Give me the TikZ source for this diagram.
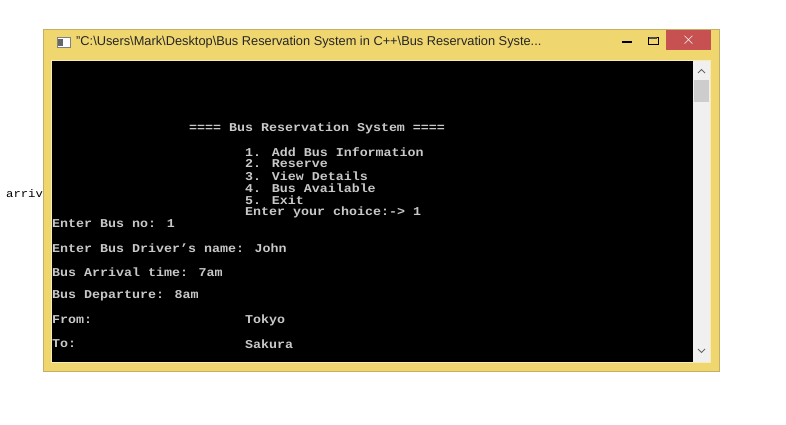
\documentclass[tikz,border=0pt]{standalone}
\usepackage{fontspec}
\setmainfont{Liberation Sans}
\newfontfamily\consolefont[FakeStretch=1.11]{Liberation Mono}
\definecolor{frameyellow}{RGB}{240,214,110}
\definecolor{frameedge}{RGB}{196,176,100}
\definecolor{closered}{RGB}{199,80,80}
\definecolor{consolegray}{RGB}{200,200,200}
\definecolor{barback}{RGB}{240,240,240}
\definecolor{thumbgray}{RGB}{205,205,205}
\begin{document}
\begin{tikzpicture}[
  x=1pt, y=1pt,
  con/.style={anchor=west, inner sep=0pt, text=consolegray,
    font=\consolefont\bfseries\fontsize{12}{12}\selectfont},
  btn/.style={inner sep=0pt, font=\fontsize{16}{16}\selectfont}
]
\useasboundingbox [fill=white] (0,0) rectangle (786,424);

% text of the window behind
\node [anchor=west, inner sep=0pt, font=\consolefont\fontsize{11}{11}\selectfont] (behind) at (6,230) {arrival};

% window frame
\fill [frameyellow, draw=frameedge] (43.5,52.5) rectangle (719.5,394.5);
\fill [closered] (666,374) rectangle (711,394);
\node [btn, text=white] (close) at (688.5,384) {$\times$};
\draw [line width=1.3pt] (622,382) -- (632,382);
\draw [line width=0.9pt] (648,380) rectangle (658,387);
\draw [line width=2pt, black!70] (649,385.5) -- (657,385.5);
% icon and title
\fill [white, draw=black!50] (57,377) rectangle (70,387);
\fill [black!60] (58,378) rectangle (63,385);
\node [anchor=west, inner sep=0pt, font=\fontsize{12.8}{12.8}\selectfont, text=black!85] (title) at (76,382)
  {"C:\textbackslash Users\textbackslash Mark\textbackslash Desktop\textbackslash Bus Reservation System in C++\textbackslash Bus Reservation Syste...};

% console area
\draw [white!50!frameyellow, line width=0.6pt] (51.5,61.5) rectangle (710.5,363.5);
\fill [black] (52,62) rectangle (693,363);
\fill [barback] (693,62) rectangle (710,363);
\fill [thumbgray] (694,322) rectangle (709,344);
\draw [black!60, line width=1pt] (698,351) -- (701.5,354.5) -- (705,351);
\draw [black!60, line width=1pt] (698,75) -- (701.5,71.5) -- (705,75);

% console text
\node [con] (head) at (189,296) {==== Bus Reservation System ====};
\node [con] (m1) at (245,272) {1. Add Bus Information};
\node [con] (m2) at (245,260) {2. Reserve};
\node [con] (m3) at (245,248) {3. View Details};
\node [con] (m4) at (245,236) {4. Bus Available};
\node [con] (m5) at (245,224) {5. Exit};
\node [con] (choice) at (245,212) {Enter your choice:-> 1};
\node [con] (busno) at (52,200) {Enter Bus no: 1};
\node [con] (driver) at (52,176) {Enter Bus Driver’s name: John};
\node [con] (arrive) at (52,152) {Bus Arrival time: 7am};
\node [con] (depart) at (52,128) {Bus Departure: 8am};
\node [con] (from) at (52,104) {From:};
\node [con] (fromval) at (245,104) {Tokyo};
\node [con] (to) at (52,80) {To:};
\node [con] (toval) at (245,80) {Sakura};
\end{tikzpicture}
\end{document}
